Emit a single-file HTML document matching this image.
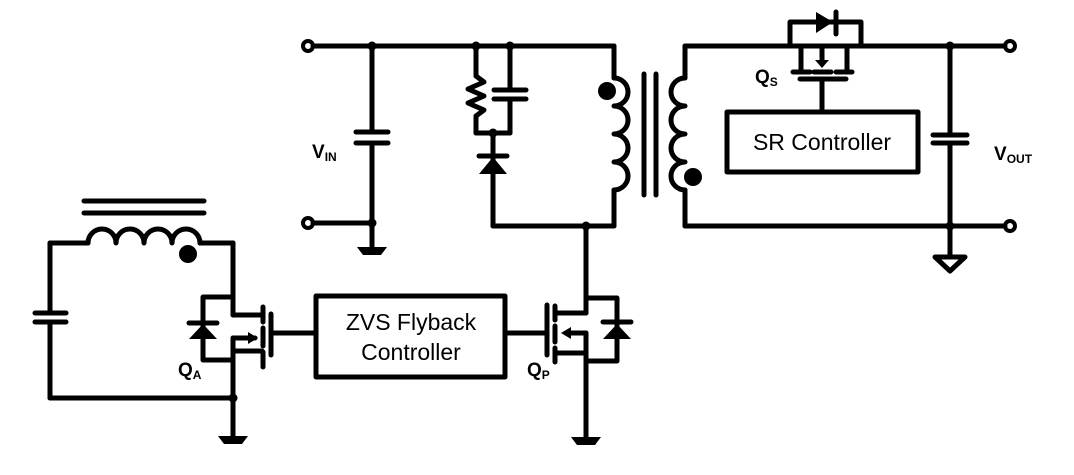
<!DOCTYPE html>
<html><head><meta charset="utf-8"><style>
html,body{margin:0;padding:0;background:#fff;}
svg{display:block;}
text{font-family:"Liberation Sans",Arial,sans-serif;fill:#000;}
</style></head><body>
<svg width="1074" height="475" viewBox="0 0 1074 475" xmlns="http://www.w3.org/2000/svg">
<g stroke="#000" stroke-width="5" fill="none" stroke-linecap="round" stroke-linejoin="round">
<!-- input side -->
<line x1="313" y1="46" x2="614" y2="46"/>
<circle cx="308" cy="46" r="5" stroke-width="4"/>
<line x1="313" y1="223" x2="372" y2="223"/>
<circle cx="308" cy="223" r="5" stroke-width="4"/>
<line x1="372" y1="46" x2="372" y2="132"/>
<line x1="372" y1="143" x2="372" y2="248"/>
<line x1="356" y1="132" x2="388" y2="132"/>
<line x1="356" y1="143" x2="388" y2="143"/>
<!-- snubber -->
<line x1="476" y1="46" x2="476" y2="76"/>
<polyline points="476,76 484,82 468,89 484,96 468,103 484,110 476,116"/>
<line x1="476" y1="116" x2="476" y2="133"/>
<line x1="476" y1="133" x2="510" y2="133"/>
<line x1="510" y1="46" x2="510" y2="90"/>
<line x1="510" y1="99" x2="510" y2="133"/>
<line x1="494" y1="90" x2="526" y2="90"/>
<line x1="494" y1="99" x2="526" y2="99"/>
<line x1="493" y1="133" x2="493" y2="226"/>
<line x1="479" y1="156" x2="507" y2="156"/>
<line x1="493" y1="226" x2="614" y2="226"/>
<!-- primary winding -->
<line x1="614" y1="46" x2="614" y2="78"/>
<path d="M614,78 a14,14 0 0 1 0,28 a14,14 0 0 1 0,28 a14,14 0 0 1 0,28 a14,14 0 0 1 0,28"/>
<line x1="614" y1="190" x2="614" y2="226"/>
<line x1="644" y1="74" x2="644" y2="195"/>
<line x1="656" y1="74" x2="656" y2="195"/>
<!-- secondary winding -->
<line x1="685" y1="46" x2="685" y2="78"/>
<path d="M685,78 a14,14 0 0 0 0,28 a14,14 0 0 0 0,28 a14,14 0 0 0 0,28 a14,14 0 0 0 0,28"/>
<line x1="685" y1="190" x2="685" y2="226"/>
<line x1="685" y1="46" x2="1005" y2="46"/>
<line x1="685" y1="226" x2="1005" y2="226"/>
<circle cx="1010" cy="46" r="5" stroke-width="4"/>
<circle cx="1010" cy="226" r="5" stroke-width="4"/>
<!-- SR diode and Qs -->
<polyline points="790,46 790,22 861,22 861,46"/>
<line x1="836" y1="12" x2="836" y2="34"/>
<line x1="801" y1="46" x2="801" y2="72"/>
<line x1="847" y1="46" x2="847" y2="72"/>
<line x1="822" y1="46" x2="822" y2="60"/>
<line x1="793" y1="72" x2="810" y2="72"/>
<line x1="814" y1="72" x2="831" y2="72"/>
<line x1="836" y1="72" x2="852" y2="72"/>
<line x1="800" y1="79" x2="846" y2="79"/>
<line x1="822" y1="79" x2="822" y2="112"/>
<rect x="727" y="112" width="191" height="60"/>
<!-- output cap -->
<line x1="950" y1="46" x2="950" y2="135"/>
<line x1="950" y1="143" x2="950" y2="256"/>
<line x1="933" y1="135" x2="967" y2="135"/>
<line x1="933" y1="143" x2="967" y2="143"/>
<polygon points="935,257 965,257 950,271"/>
<!-- left LC -->
<line x1="50" y1="243" x2="50" y2="313"/>
<line x1="50" y1="322" x2="50" y2="398"/>
<line x1="35" y1="313" x2="66" y2="313"/>
<line x1="35" y1="322" x2="66" y2="322"/>
<line x1="50" y1="243" x2="88" y2="243"/>
<path d="M88,243 a14,14 0 0 1 28,0 a14,14 0 0 1 28,0 a14,14 0 0 1 28,0 a14,14 0 0 1 28,0"/>
<line x1="200" y1="243" x2="233" y2="243"/>
<line x1="84" y1="201" x2="204" y2="201"/>
<line x1="84" y1="213" x2="204" y2="213"/>
<line x1="50" y1="398" x2="233" y2="398"/>
<!-- QA -->
<line x1="233" y1="243" x2="233" y2="315"/>
<line x1="233" y1="315" x2="262" y2="315"/>
<line x1="233" y1="338" x2="255" y2="338"/>
<line x1="233" y1="351" x2="262" y2="351"/>
<line x1="233" y1="338" x2="233" y2="436"/>
<polyline points="233,297 203,297 203,360 233,360"/>
<line x1="189" y1="323" x2="217" y2="323"/>
<line x1="263" y1="307" x2="263" y2="322"/>
<line x1="263" y1="328" x2="263" y2="346"/>
<line x1="263" y1="352" x2="263" y2="367"/>
<line x1="271" y1="314" x2="271" y2="355"/>
<line x1="271" y1="333" x2="316" y2="333"/>
<rect x="316" y="296" width="189" height="81"/>
<!-- QP -->
<line x1="505" y1="333" x2="546" y2="333"/>
<line x1="547" y1="305" x2="547" y2="355"/>
<line x1="555" y1="306" x2="555" y2="320"/>
<line x1="555" y1="326" x2="555" y2="342"/>
<line x1="555" y1="348" x2="555" y2="362"/>
<line x1="586" y1="226" x2="586" y2="313"/>
<line x1="586" y1="313" x2="556" y2="313"/>
<line x1="586" y1="333" x2="566" y2="333"/>
<line x1="556" y1="353" x2="586" y2="353"/>
<line x1="586" y1="333" x2="586" y2="438"/>
<polyline points="586,298 617,298 617,361 586,361"/>
<line x1="603" y1="322" x2="631" y2="322"/>
</g>
<g fill="#000">
<circle cx="372" cy="46" r="4.5"/><circle cx="476" cy="46" r="4.5"/><circle cx="510" cy="46" r="4.5"/>
<circle cx="372" cy="223" r="4.5"/><circle cx="493" cy="133" r="4.5"/><circle cx="586" cy="226" r="4.5"/>
<circle cx="950" cy="46" r="4.5"/><circle cx="950" cy="226" r="4.5"/><circle cx="233" cy="398" r="4.5"/>
<circle cx="607" cy="91" r="9"/><circle cx="693" cy="177" r="9"/><circle cx="188" cy="254" r="9"/>
<polygon points="479,174 507,174 493,157"/>
<polygon points="189,339 217,339 203,324"/>
<polygon points="603,339 631,339 617,324"/>
<polygon points="816,12 816,33 833,22"/>
<polygon points="815,60 829,60 822,68"/>
<polygon points="258,338 248,332 248,344"/>
<polygon points="561,333 571,327 571,339"/>
<path d="M357,247 h30 l-6,8 h-18 z"/>
<path d="M218,436 h30 l-6,8 h-18 z"/>
<path d="M571,437 h30 l-6,8 h-18 z"/>
</g>
<text x="822" y="150" font-size="23" text-anchor="middle">SR Controller</text>
<text x="411" y="330" font-size="23" text-anchor="middle">ZVS Flyback</text>
<text x="411" y="360" font-size="23" text-anchor="middle">Controller</text>
<g font-weight="bold">
<text x="312" y="158" font-size="19">V<tspan font-size="12" dy="3">IN</tspan></text>
<text x="994" y="160" font-size="19">V<tspan font-size="12" dy="3">OUT</tspan></text>
<text x="178" y="376" font-size="19">Q<tspan font-size="12" dy="3">A</tspan></text>
<text x="527" y="376" font-size="19">Q<tspan font-size="12" dy="3">P</tspan></text>
<text x="755" y="83" font-size="19">Q<tspan font-size="12" dy="3">S</tspan></text>
</g>
</svg>
</body></html>
